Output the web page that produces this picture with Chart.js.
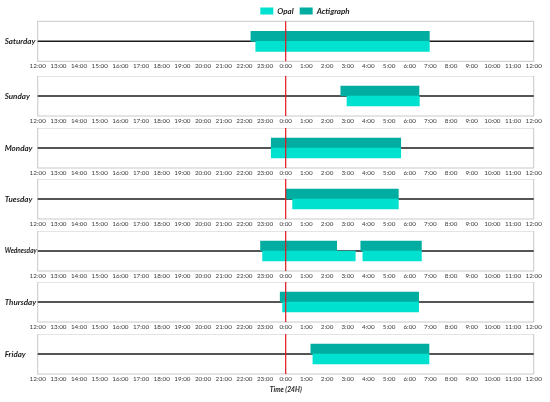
<!DOCTYPE html>
<html>
<head>
<meta charset="utf-8">
<script src="https://cdn.jsdelivr.net/npm/chart.js@4.4.1/dist/chart.umd.min.js"></script>
<style>
    html, body { margin: 0; padding: 0; background: #fff; width: 550px; height: 402px; overflow: hidden; }
    .panel { position: absolute; left: 0; }
</style>
</head>
<body>
<div id="wrap"></div>
<script>
// dữ liệu: mỗi ngày một danh sách khoảng ngủ [bắt đầu, kết thúc]
const days = ['Saturday', 'Sunday', 'Monday', 'Tuesday', 'Wednesday', 'Thursday', 'Friday'];
const actigraph = [
    [['22:19', '6:57']],
    [['2:40', '6:27']],
    [['23:18', '5:34']],
    [['0:01', '5:27']],
    [['22:47', '2:28'], ['3:38', '6:34']],
    [['23:44', '6:26']],
    [['1:13', '6:56']]
];
const opal = [
    [['22:33', '6:57']],
    [['2:58', '6:28']],
    [['23:18', '5:34']],
    [['0:20', '5:27']],
    [['22:53', '3:22'], ['3:44', '6:34']],
    [['23:51', '6:26']],
    [['1:19', '6:56']]
];
const hourLabels = ['12:00', '13:00', '14:00', '15:00', '16:00', '17:00', '18:00', '19:00', '20:00',
    '21:00', '22:00', '23:00', '0:00', '1:00', '2:00', '3:00', '4:00', '5:00', '6:00', '7:00',
    '8:00', '9:00', '10:00', '11:00', '12:00'];
const rows = [' ', 'Actigraph', 'Opal', '  '];

const opalColor = '#00e1cf';
const actiColor = '#00ada0';
// vị trí đỉnh khung của từng ngày (px)
const panelTop = [21, 75.7, 128, 179.3, 230.7, 282.3, 334];
const plotLeft = 37.7, plotRight = 533.7, plotH = 40;

// đổi giờ đồng hồ sang số giờ tính từ 12:00 trưa
const toHours = function (t) {
    const p = t.split(':').map(Number);
    return (p[0] >= 12 ? p[0] - 12 : p[0] + 12) + p[1] / 60;
};

// khung, đường giữa, vạch đỏ 0:00 và tên ngày
const panelDeco = {
    id: 'panelDeco',
    beforeDatasetsDraw: (chart, args, opts) => {
        const ctx = chart.ctx, a = chart.chartArea, y = chart.scales.y;
        const mid = (y.getPixelForValue(1) + y.getPixelForValue(2)) / 2;
        ctx.save();
        ctx.strokeStyle = '#c9c9c9';
        ctx.lineWidth = 1;
        ctx.strokeRect(a.left, a.top, a.width, a.height);
        ctx.strokeStyle = '#1c1c1c';
        ctx.lineWidth = 1.5;
        ctx.beginPath();
        ctx.moveTo(a.left, mid);
        ctx.lineTo(a.right, mid);
        ctx.stroke();
        let size = 8;
        ctx.font = 'italic bold ' + size + 'px Lato';
        while (ctx.measureText(opts.day).width > 32.5 && size > 5) {
            size -= 0.25;
            ctx.font = 'italic bold ' + size + 'px Lato';
        }
        ctx.fillStyle = '#1c1c1c';
        ctx.textAlign = 'left';
        ctx.textBaseline = 'middle';
        ctx.fillText(opts.day, 4.7, mid);
        ctx.restore();
    },
    afterDatasetsDraw: (chart) => {
        const ctx = chart.ctx, a = chart.chartArea;
        const zx = chart.scales.x.getPixelForValue(hourLabels.indexOf('0:00'));
        ctx.save();
        ctx.strokeStyle = '#e3141e';
        ctx.lineWidth = 1.2;
        ctx.beginPath();
        ctx.moveTo(zx, a.top);
        ctx.lineTo(zx, a.bottom);
        ctx.stroke();
        ctx.restore();
    }
};

function buildDatasets(i) {
    const sets = [];
    opal[i].forEach(function (iv) {
        sets.push({ label: 'Opal', data: [null, null, iv.map(toHours), null], backgroundColor: opalColor });
    });
    actigraph[i].forEach(function (iv) {
        sets.push({ label: 'Actigraph', data: [null, iv.map(toHours), null, null], backgroundColor: actiColor });
    });
    return sets;
}

const wrap = document.getElementById('wrap');
days.forEach(function (day, i) {
    const first = i === 0, last = i === days.length - 1;
    const legendH = 20.3;
    const axisH = last ? 20 : 12;
    const width = first ? 610 : 550;
    const height = plotH + axisH + (first ? legendH : 0);

    const box = document.createElement('div');
    box.className = 'panel';
    box.style.width = width + 'px';
    box.style.height = height + 'px';
    const cv = document.createElement('canvas');
    box.appendChild(cv);
    wrap.appendChild(box);

    const scales = {
        x: {
            type: 'linear', min: 0, max: 24,
            ticks: {
                stepSize: 1, autoSkip: false, maxRotation: 0, minRotation: 0, padding: 1,
                color: '#3a3a3a', font: { family: 'Lato', size: 6.3 },
                callback: (v) => hourLabels[v]
            },
            grid: { display: false, drawTicks: false },
            border: { display: false },
            title: {
                display: last, text: 'Time (24H)', padding: 0, color: '#222',
                font: { family: 'Lato', size: 6.8, weight: 'bold', style: 'italic' }
            },
            afterFit: (s) => { s.height = axisH; }
        },
        y: {
            type: 'category', offset: true,
            ticks: { display: false },
            grid: { display: false },
            border: { display: false },
            afterFit: (s) => { s.width = plotLeft; }
        }
    };
    if (first) {
        // trục phụ bên phải để chú thích nằm đúng chỗ
        scales.y2 = {
            type: 'linear', position: 'right',
            ticks: { display: false }, grid: { display: false }, border: { display: false },
            afterFit: (s) => { s.width = width - plotRight; }
        };
    }

    const chart = new Chart(cv, {
        type: 'bar',
        data: { labels: rows, datasets: buildDatasets(i) },
        options: {
            indexAxis: 'y',
            responsive: true,
            maintainAspectRatio: false,
            animation: false,
            layout: { padding: { left: 0, right: first ? 0 : 550 - plotRight, top: 0, bottom: 0 } },
            datasets: { bar: { grouped: false, barPercentage: 1, categoryPercentage: 1, borderWidth: 0 } },
            scales: scales,
            plugins: {
                legend: {
                    display: first,
                    position: 'top',
                    maxHeight: legendH,
                    labels: {
                        boxWidth: 13, boxHeight: 7, padding: 6, color: '#222',
                        font: { family: 'Lato', size: 8, weight: 'bold', style: 'italic' }
                    }
                },
                tooltip: { enabled: false },
                panelDeco: { day: day }
            }
        },
        plugins: [panelDeco]
    });
    box.style.top = (panelTop[i] - chart.chartArea.top) + 'px';
});
</script>
</body>
</html>
